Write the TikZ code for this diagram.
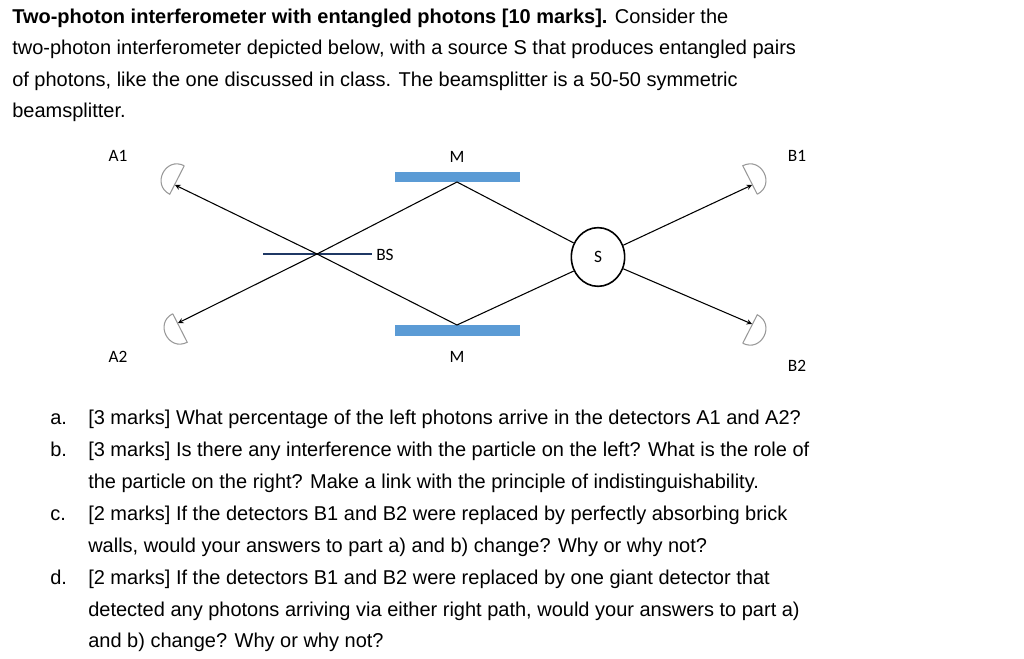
\documentclass[tikz,border=0pt]{standalone}
\usepackage{fontspec}
\setmainfont{Liberation Sans}
\newfontfamily\lab{Carlito}
\usetikzlibrary{shapes.geometric}
\begin{document}
\begin{tikzpicture}[x=0.75pt,y=-0.75pt,
  txt/.style={anchor=base west,inner sep=0pt,font=\fontsize{15}{18}\selectfont},
  lbl/.style={inner sep=0pt,font=\lab\fontsize{13}{15}\selectfont},
  beam/.style={line width=0.8pt},
  arr/.style={beam,-stealth},
  mirror/.style={fill=mirblue,draw=none},
  det/.style={draw=gray!80,line width=0.8pt}]
\definecolor{mirblue}{RGB}{91,155,213}
\definecolor{bsblue}{RGB}{31,56,100}
\useasboundingbox (0,0) rectangle (1024,659);
% text
\node[txt] (t1) at (12,24) {\textbf{Two-photon interferometer with entangled photons [10 marks].} Consider the};
\node[txt] (t2) at (12,55) {two-photon interferometer depicted below, with a source S that produces entangled pairs};
\node[txt] (t3) at (12,87) {of photons, like the one discussed in class. The beamsplitter is a 50-50 symmetric};
\node[txt] (t4) at (12,118) {beamsplitter.};
\node[txt] (qal) at (50,424) {a.};
\node[txt] (qa) at (88,424) {[3 marks] What percentage of the left photons arrive in the detectors A1 and A2?};
\node[txt] (qbl) at (50,456) {b.};
\node[txt] (qb) at (88,456) {[3 marks] Is there any interference with the particle on the left? What is the role of};
\node[txt] (qb2) at (88,488) {the particle on the right? Make a link with the principle of indistinguishability.};
\node[txt] (qcl) at (50,520) {c.};
\node[txt] (qc) at (88,520) {[2 marks] If the detectors B1 and B2 were replaced by perfectly absorbing brick};
\node[txt] (qc2) at (88,552) {walls, would your answers to part a) and b) change? Why or why not?};
\node[txt] (qdl) at (50,584) {d.};
\node[txt] (qd) at (88,584) {[2 marks] If the detectors B1 and B2 were replaced by one giant detector that};
\node[txt] (qd2) at (88,616) {detected any photons arriving via either right path, would your answers to part a)};
\node[txt] (qd3) at (88,647) {and b) change? Why or why not?};
% optics
\fill[mirror] (395,172) rectangle (520,182);
\fill[mirror] (395,325) rectangle (520,336);
\coordinate (mt) at (457,182);
\coordinate (mb) at (457,325);
\coordinate (bs) at (317,254);
\draw[bsblue,line width=1.6pt] (263,254) -- (372,254);
\node[lbl,anchor=west] (bsl) at (376,255) {BS};
\node[lbl] (m1) at (457,157) {M};
\node[lbl] (m2) at (457,357) {M};
\node[draw,ellipse,line width=1.2pt,minimum width=40pt,minimum height=44pt,inner sep=0pt] (s) at (598,257) {};
\node[lbl] at (s) {S};
\coordinate (a1) at (175,185);
\coordinate (a2) at (178,323);
\coordinate (b1) at (752,185);
\coordinate (b2) at (752,324);
\draw[beam] (s.150) -- (mt) -- (bs);
\draw[beam] (s.210) -- (mb) -- (bs);
\draw[arr] (bs) -- (a1);
\draw[arr] (bs) -- (a2);
\draw[arr] (s.25) -- (b1);
\draw[arr] (s.-25) -- (b2);
% detectors
\foreach \cx/\cy/\r in {177/180/-27,180/328/27,750/180/207,750/329/153}{
 \begin{scope}[shift={(\cx,\cy)},rotate=\r]
 \draw[det] (0,-16) -- (0,16) .. controls (-21,16) and (-21,-16) .. (0,-16);
 \end{scope}
}
\node[lbl] (la1) at (118,156) {A1};
\node[lbl] (la2) at (118,357) {A2};
\node[lbl] (lb1) at (797,156) {B1};
\node[lbl] (lb2) at (797,366) {B2};
\end{tikzpicture}
\end{document}
